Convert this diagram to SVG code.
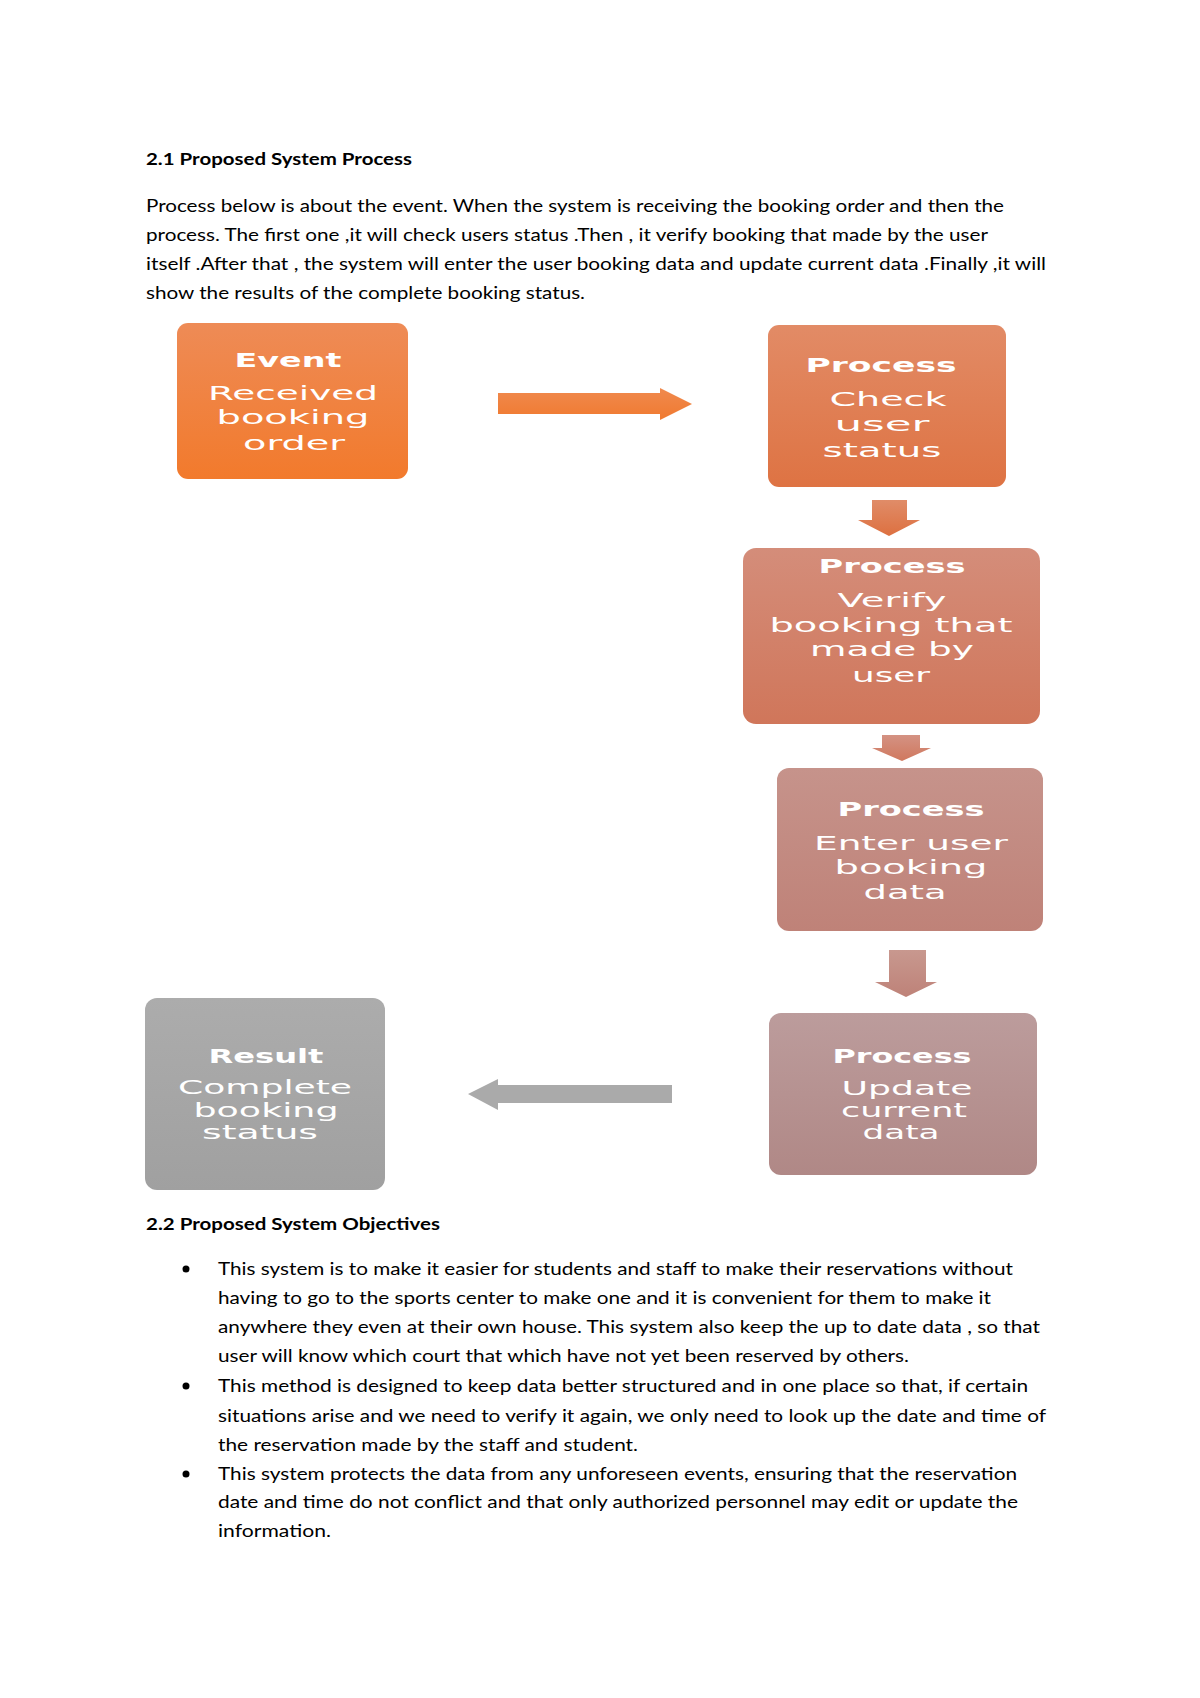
<svg xmlns="http://www.w3.org/2000/svg" width="1200" height="1698" viewBox="0 0 1200 1698">
<style>
.body{font-family:Lato,"Liberation Sans",sans-serif;font-size:17px;fill:#000}
.head{font-family:Lato,"Liberation Sans",sans-serif;font-size:17px;font-weight:bold;fill:#000}
.nt{font-family:"DejaVu Sans","Liberation Sans",sans-serif;font-size:19px;font-weight:bold;fill:#fff;text-anchor:middle}
.nb{font-family:"DejaVu Sans","Liberation Sans",sans-serif;font-size:20px;fill:#fff;text-anchor:middle}
</style>
<defs>
<linearGradient id="g1" x1="0" y1="0" x2="0" y2="1"><stop offset="0" stop-color="#EE8B56"/><stop offset="1" stop-color="#F27A2C"/></linearGradient>
<linearGradient id="g2" x1="0" y1="0" x2="0" y2="1"><stop offset="0" stop-color="#E28B66"/><stop offset="1" stop-color="#DE7343"/></linearGradient>
<linearGradient id="g3" x1="0" y1="0" x2="0" y2="1"><stop offset="0" stop-color="#D48D7A"/><stop offset="1" stop-color="#D0765A"/></linearGradient>
<linearGradient id="g4" x1="0" y1="0" x2="0" y2="1"><stop offset="0" stop-color="#C6938B"/><stop offset="1" stop-color="#BF8278"/></linearGradient>
<linearGradient id="g5" x1="0" y1="0" x2="0" y2="1"><stop offset="0" stop-color="#BC9C9C"/><stop offset="1" stop-color="#B08886"/></linearGradient>
<linearGradient id="g6" x1="0" y1="0" x2="0" y2="1"><stop offset="0" stop-color="#ACACAC"/><stop offset="1" stop-color="#A0A0A0"/></linearGradient>
<linearGradient id="a1" x1="0" y1="0" x2="0" y2="1"><stop offset="0" stop-color="#F08A4E"/><stop offset="1" stop-color="#F07A30"/></linearGradient>
<linearGradient id="a2" x1="0" y1="0" x2="0" y2="1"><stop offset="0" stop-color="#E08C68"/><stop offset="1" stop-color="#DD7040"/></linearGradient>
<linearGradient id="a3" x1="0" y1="0" x2="0" y2="1"><stop offset="0" stop-color="#D49283"/><stop offset="1" stop-color="#D0785E"/></linearGradient>
<linearGradient id="a4" x1="0" y1="0" x2="0" y2="1"><stop offset="0" stop-color="#C8988F"/><stop offset="1" stop-color="#BE8278"/></linearGradient>
</defs>
<rect width="1200" height="1698" fill="#fff"/>

<g id="section1">
<text class="head" x="146" y="165" textLength="266" lengthAdjust="spacingAndGlyphs">2.1 Proposed System Process</text>
<text class="body" x="146" y="212" textLength="858" lengthAdjust="spacingAndGlyphs">Process below is about the event. When the system is receiving the booking order and then the</text>
<text class="body" x="146" y="241" textLength="842" lengthAdjust="spacingAndGlyphs">process. The first one ,it will check users status .Then , it verify booking that made by the user</text>
<text class="body" x="146" y="270" textLength="900" lengthAdjust="spacingAndGlyphs">itself .After that , the system will enter the user booking data and update current data .Finally ,it will</text>
<text class="body" x="146" y="299" textLength="439" lengthAdjust="spacingAndGlyphs">show the results of the complete booking status.</text>
</g>

<g id="connectors">
<polygon points="498,393 660,393 660,388 692,404 660,420 660,414 498,414" fill="url(#a1)"/>
<polygon points="872,500 907,500 907,520 920,520 889,536 858,520 872,520" fill="url(#a2)"/>
<polygon points="882,735 920,735 920,748 931,748 902,761 872,748 882,748" fill="url(#a3)"/>
<polygon points="889,950 926,950 926,982 937,982 906,997 875,982 889,982" fill="url(#a4)"/>
<polygon points="672,1085 498,1085 498,1079 468,1094 498,1110 498,1103 672,1103" fill="#AAAAAA"/>
</g>

<g id="node-event">
<rect x="177" y="323" width="231" height="156" rx="11" fill="url(#g1)"/>
<text class="nt" x="288" y="367" textLength="107" lengthAdjust="spacingAndGlyphs">Event</text>
<text class="nb" x="293" y="400" textLength="170" lengthAdjust="spacingAndGlyphs">Received</text>
<text class="nb" x="293" y="424" textLength="153" lengthAdjust="spacingAndGlyphs">booking</text>
<text class="nb" x="294" y="450" textLength="102" lengthAdjust="spacingAndGlyphs">order</text>
</g>

<g id="node-check">
<rect x="768" y="325" width="238" height="162" rx="11" fill="url(#g2)"/>
<text class="nt" x="881" y="372" textLength="151" lengthAdjust="spacingAndGlyphs">Process</text>
<text class="nb" x="888" y="406" textLength="117" lengthAdjust="spacingAndGlyphs">Check</text>
<text class="nb" x="882" y="431" textLength="95" lengthAdjust="spacingAndGlyphs">user</text>
<text class="nb" x="882" y="457" textLength="119" lengthAdjust="spacingAndGlyphs">status</text>
</g>

<g id="node-verify">
<rect x="743" y="548" width="297" height="176" rx="13" fill="url(#g3)"/>
<text class="nt" x="892" y="573" textLength="147" lengthAdjust="spacingAndGlyphs">Process</text>
<text class="nb" x="892" y="607" textLength="109" lengthAdjust="spacingAndGlyphs">Verify</text>
<text class="nb" x="891" y="632" textLength="243" lengthAdjust="spacingAndGlyphs">booking that</text>
<text class="nb" x="892" y="656" textLength="164" lengthAdjust="spacingAndGlyphs">made by</text>
<text class="nb" x="891" y="682" textLength="78" lengthAdjust="spacingAndGlyphs">user</text>
</g>

<g id="node-enter">
<rect x="777" y="768" width="266" height="163" rx="12" fill="url(#g4)"/>
<text class="nt" x="911" y="816" textLength="147" lengthAdjust="spacingAndGlyphs">Process</text>
<text class="nb" x="911" y="850" textLength="194" lengthAdjust="spacingAndGlyphs">Enter user</text>
<text class="nb" x="911" y="874" textLength="153" lengthAdjust="spacingAndGlyphs">booking</text>
<text class="nb" x="905" y="899" textLength="83" lengthAdjust="spacingAndGlyphs">data</text>
</g>

<g id="node-update">
<rect x="769" y="1013" width="268" height="162" rx="12" fill="url(#g5)"/>
<text class="nt" x="902" y="1063" textLength="139" lengthAdjust="spacingAndGlyphs">Process</text>
<text class="nb" x="907" y="1095" textLength="131" lengthAdjust="spacingAndGlyphs">Update</text>
<text class="nb" x="904" y="1117" textLength="126" lengthAdjust="spacingAndGlyphs">current</text>
<text class="nb" x="901" y="1139" textLength="77" lengthAdjust="spacingAndGlyphs">data</text>
</g>

<g id="node-result">
<rect x="145" y="998" width="240" height="192" rx="12" fill="url(#g6)"/>
<text class="nt" x="266" y="1063" textLength="115" lengthAdjust="spacingAndGlyphs">Result</text>
<text class="nb" x="265" y="1094" textLength="174" lengthAdjust="spacingAndGlyphs">Complete</text>
<text class="nb" x="266" y="1117" textLength="145" lengthAdjust="spacingAndGlyphs">booking</text>
<text class="nb" x="260" y="1139" textLength="116" lengthAdjust="spacingAndGlyphs">status</text>
</g>

<g id="section2">
<text class="head" x="146" y="1230" textLength="294" lengthAdjust="spacingAndGlyphs">2.2 Proposed System Objectives</text>
<circle cx="186" cy="1269" r="3.5" fill="#000"/>
<circle cx="186" cy="1386" r="3.5" fill="#000"/>
<circle cx="186" cy="1474" r="3.5" fill="#000"/>
<text class="body" x="218" y="1275" textLength="795" lengthAdjust="spacingAndGlyphs">This system is to make it easier for students and staff to make their reservations without</text>
<text class="body" x="218" y="1304" textLength="773" lengthAdjust="spacingAndGlyphs">having to go to the sports center to make one and it is convenient for them to make it</text>
<text class="body" x="218" y="1333" textLength="822" lengthAdjust="spacingAndGlyphs">anywhere they even at their own house. This system also keep the up to date data , so that</text>
<text class="body" x="218" y="1362" textLength="691" lengthAdjust="spacingAndGlyphs">user will know which court that which have not yet been reserved by others.</text>
<text class="body" x="218" y="1392" textLength="810" lengthAdjust="spacingAndGlyphs">This method is designed to keep data better structured and in one place so that, if certain</text>
<text class="body" x="218" y="1422" textLength="828" lengthAdjust="spacingAndGlyphs">situations arise and we need to verify it again, we only need to look up the date and time of</text>
<text class="body" x="218" y="1451" textLength="420" lengthAdjust="spacingAndGlyphs">the reservation made by the staff and student.</text>
<text class="body" x="218" y="1480" textLength="799" lengthAdjust="spacingAndGlyphs">This system protects the data from any unforeseen events, ensuring that the reservation</text>
<text class="body" x="218" y="1508" textLength="800" lengthAdjust="spacingAndGlyphs">date and time do not conflict and that only authorized personnel may edit or update the</text>
<text class="body" x="218" y="1537" textLength="113" lengthAdjust="spacingAndGlyphs">information.</text>
</g>
</svg>
